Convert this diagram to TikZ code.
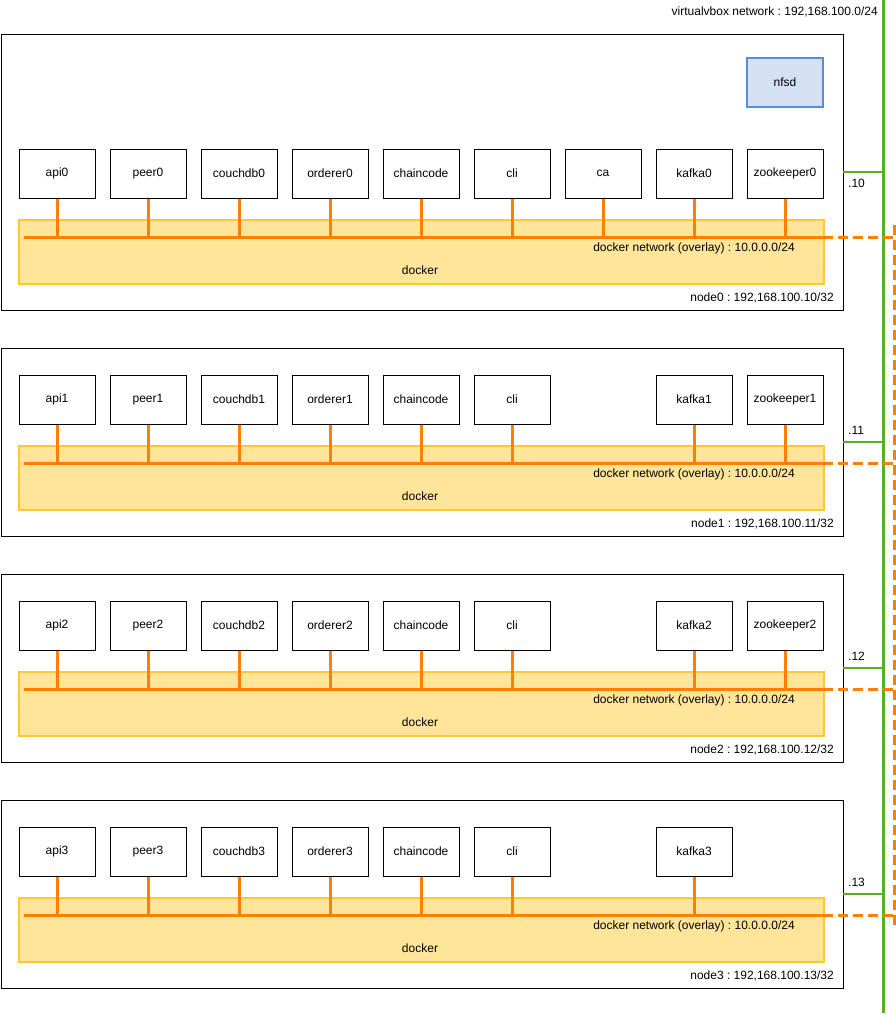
\documentclass[tikz,border=0pt]{standalone}
\usepackage{fontspec}
\setmainfont{Liberation Sans}
\usepackage{tikz}
\usepackage{xcolor}
\usetikzlibrary{positioning}
\frenchspacing
\definecolor{vbgreen}{RGB}{88, 176, 32}
\definecolor{dkorange}{RGB}{255, 128, 0}
\definecolor{dkfill}{RGB}{255, 229, 153}
\definecolor{dkstroke}{RGB}{255, 200, 50}
\definecolor{nfsfill}{RGB}{212, 225, 245}
\definecolor{nfsdraw}{RGB}{88, 140, 215}
\tikzset{
    txt/.style={inner sep=0pt, font=\fontsize{12}{14}\selectfont},
    hostbox/.style={draw=black, line width=1pt, fill=white, inner sep=0pt, minimum width=842pt},
    svcbox/.style={txt, draw=black, line width=1pt, fill=white, minimum width=76pt, minimum height=49pt},
    nfsbox/.style={svcbox, draw=nfsdraw, line width=2pt, fill=nfsfill},
    dockerbox/.style={draw=dkstroke, line width=2pt, fill=dkfill, inner sep=0pt, minimum width=805pt, minimum height=64pt},
    ovnet/.style={draw=dkorange, line width=3pt},
    ovdash/.style={ovnet, dash pattern=on 10pt off 5pt},
    vbnet/.style={draw=vbgreen, line width=3pt},
    vbstub/.style={draw=vbgreen, line width=2.5pt}
}
\newcommand\svcname[2]{\ifcase#1 api#2\or peer#2\or couchdb#2\or orderer#2\or chaincode\or cli\or ca\or kafka#2\or zookeeper#2\fi}

\begin{document}
\begin{tikzpicture}[x=1pt, y=-1pt]
    \useasboundingbox (0,0) rectangle (896,1015);
    % virtualbox network
    \coordinate (vbtop) at (883,0);
    \coordinate (vbbot) at (883,1013);
    \coordinate (ovtop) at (894,225);
    \coordinate (ovbot) at (894,928);
    \node[txt, anchor=east] (vbname) at (878,12) {virtualvbox network : 192,168.100.0/24};
    \draw[vbnet] (vbtop) -- (vbbot);
    \draw[ovdash] (ovtop) -- (ovbot);
    % hosts
    \foreach \k/\T/\H/\o/\cols in {0/34/276/88/{0,1,2,3,4,5,6,7,8},
                                  1/348/188/0/{0,1,2,3,4,5,7,8},
                                  2/574/188/0/{0,1,2,3,4,5,7,8},
                                  3/800/188/0/{0,1,2,3,4,5,7}}{
        \pgfmathsetmacro\gy{\T+94+\o/2}
        \pgfmathsetmacro\gs{\k==0 ? 11 : -12}
        \node[hostbox, minimum height=\H pt, anchor=north west] (host\k) at (1,\T) {};
        \node[txt, anchor=east] (hostname\k) at (834,\T+\H-12) {node\k{} : 192,168.100.1\k/32};
        \coordinate (vbport\k) at (843,\gy);
        \draw[vbstub] (vbport\k) -- (vbport\k -| vbtop);
        \node[txt, anchor=west] (vbaddr\k) at (848,\gy+\gs) {.1\k};
        \node[dockerbox, anchor=north west] (docker\k) at (18,\T+\o+97) {};
        \node[txt] (dockername\k) at (420,\T+\o+148) {docker};
        \node[txt] (ovname\k) at (694,\T+\o+126) {docker network (overlay) : 10.0.0.0/24};
        \coordinate (net\k w) at (24,\T+\o+115);
        \coordinate (net\k e) at (823,\T+\o+115);
        \draw[ovnet] (net\k w) -- (net\k e);
        \draw[ovdash] (net\k e) -- (net\k e -| ovtop);
        \foreach \c in \cols{
            \node[svcbox] (svc\k-\c) at (57+91*\c,\T+\o+51.5) {\svcname{\c}{\k}};
            \draw[ovnet] (svc\k-\c.south) -- (svc\k-\c.south |- net\k w);
        }
    }
    \node[nfsbox] (nfsd) at (785,82) {nfsd};
\end{tikzpicture}
\end{document}
